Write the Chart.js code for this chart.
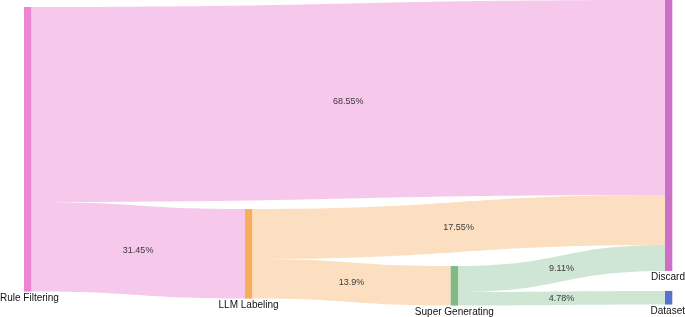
<!DOCTYPE html>
<html><head><meta charset="utf-8">
<script src="https://cdn.jsdelivr.net/npm/chart.js@4.4.1/dist/chart.umd.min.js"></script>
<style>html,body{margin:0;padding:0;background:#fff;overflow:hidden}</style>
</head><body>
<canvas id="c" width="685" height="317"></canvas>
<script>
// ---- data ----
const nodeNames = ['Rule Filtering', 'LLM Labeling', 'Super Generating', 'Discard', 'Dataset'];
const linkSources = ['Rule Filtering', 'Rule Filtering', 'LLM Labeling', 'LLM Labeling', 'Super Generating', 'Super Generating'];
const linkTargets = ['Discard', 'LLM Labeling', 'Discard', 'Super Generating', 'Discard', 'Dataset'];
const linkValues = [68.55, 31.45, 17.55, 13.9, 9.11, 4.78];
const linkLabels = ['68.55%', '31.45%', '17.55%', '13.9%', '9.11%', '4.78%'];

// ---- layout & style ----
const nodeColumn = { 'Rule Filtering': 0, 'LLM Labeling': 1.034, 'Super Generating': 1.997, 'Discard': 3, 'Dataset': 3 };
const nodeColors = { 'Rule Filtering': '#ec84d1', 'LLM Labeling': '#f6ae5c', 'Super Generating': '#80bb86', 'Discard': '#cb70c6', 'Dataset': '#5a70cd' };
const linkColors = { 'Rule Filtering': '#f6c8ec', 'LLM Labeling': '#fcdfc0', 'Super Generating': '#cfe6d5' };
const NODE_W = 7.3;
const SHIFT = 2.46;     // vertical offset of a node below its incoming link (value units)
const SINK_GAP = 7.02;  // gap between stacked sink nodes (value units)

// compute node values
const nodes = {};
nodeNames.forEach(n => nodes[n] = { name: n, inV: 0, outV: 0 });
linkValues.forEach((v, i) => { nodes[linkSources[i]].outV += v; nodes[linkTargets[i]].inV += v; });
nodeNames.forEach(n => nodes[n].value = Math.max(nodes[n].inV, nodes[n].outV));

// vertical layout
const links = linkValues.map((v, i) => ({ s: linkSources[i], t: linkTargets[i], v, label: linkLabels[i] }));
const sinks = nodeNames.filter(n => nodes[n].outV === 0);
let acc = 0;
sinks.forEach(n => { nodes[n].top = acc; acc += nodes[n].value + SINK_GAP; });
const order = nodeNames.filter(n => nodes[n].outV > 0).sort((a, b) => nodeColumn[a] - nodeColumn[b]);
order.forEach(n => {
  const nd = nodes[n];
  if (nd.inV === 0) nd.top = SHIFT;
  else {
    const inc = links.find(l => l.t === n);
    nd.top = inc.sy0 + SHIFT;
  }
  let off = nd.top;
  links.filter(l => l.s === n).forEach(l => { l.sy0 = off; off += l.v; l.sy1 = off; });
});
sinks.concat(order).forEach(n => {
  let off = nodes[n].top;
  links.filter(l => l.t === n).forEach(l => { l.ty0 = off; off += l.v; l.ty1 = off; });
});
const yMax = Math.max(...nodeNames.map(n => nodes[n].top + nodes[n].value));

const sankeyPlugin = {
  id: 'sankey',
  afterDatasetsDraw(chart) {
    const ctx = chart.ctx, xs = chart.scales.x, ys = chart.scales.y;
    const X = n => xs.getPixelForValue(nodeColumn[n]);
    const Y = v => ys.getPixelForValue(v);
    ctx.save();
    // links
    links.forEach(l => {
      const x0 = X(l.s) + NODE_W, x1 = X(l.t);
      const xm = (x0 + x1) / 2;
      const a0 = Y(l.sy0), a1 = Y(l.sy1), b0 = Y(l.ty0), b1 = Y(l.ty1);
      ctx.beginPath();
      ctx.moveTo(x0, a0);
      ctx.bezierCurveTo(xm, a0, xm, b0, x1, b0);
      ctx.lineTo(x1, b1);
      ctx.bezierCurveTo(xm, b1, xm, a1, x0, a1);
      ctx.closePath();
      ctx.fillStyle = linkColors[l.s];
      ctx.fill();
    });
    // nodes
    nodeNames.forEach(n => {
      const nd = nodes[n];
      ctx.fillStyle = nodeColors[n];
      ctx.fillRect(X(n), Y(nd.top), NODE_W, Y(nd.top + nd.value) - Y(nd.top));
    });
    // link labels
    ctx.font = '9px "Liberation Sans", Arial, sans-serif';
    ctx.fillStyle = '#3a3a3a';
    ctx.textAlign = 'center';
    ctx.textBaseline = 'middle';
    links.forEach(l => {
      const x0 = X(l.s) + NODE_W, x1 = X(l.t);
      const y = (Y(l.sy0) + Y(l.sy1) + Y(l.ty0) + Y(l.ty1)) / 4;
      ctx.fillText(l.label, (x0 + x1) / 2, y);
    });
    // node labels (kept inside the canvas)
    ctx.font = '10px "Liberation Sans", Arial, sans-serif';
    ctx.fillStyle = '#111';
    const W = chart.width;
    nodeNames.forEach(n => {
      const nd = nodes[n];
      const w = ctx.measureText(n).width;
      let cx = X(n) + NODE_W / 2;
      cx = Math.min(Math.max(cx, w / 2), W - w / 2);
      ctx.fillText(n, cx, Y(nd.top + nd.value) + 6.5);
    });
    ctx.restore();
  }
};

new Chart(document.getElementById('c'), {
  type: 'scatter',
  data: { datasets: [{ data: [], pointRadius: 0 }] },
  options: {
    responsive: false,
    animation: false,
    devicePixelRatio: 1,
    layout: { padding: { left: 24, right: 20, top: 0, bottom: 317 - 2.846 * yMax } },
    plugins: { legend: { display: false }, tooltip: { enabled: false } },
    scales: {
      x: { type: 'linear', min: 0, max: 3, display: false },
      y: { type: 'linear', min: 0, max: yMax, reverse: true, display: false }
    }
  },
  plugins: [sankeyPlugin]
});
</script>
</body></html>
